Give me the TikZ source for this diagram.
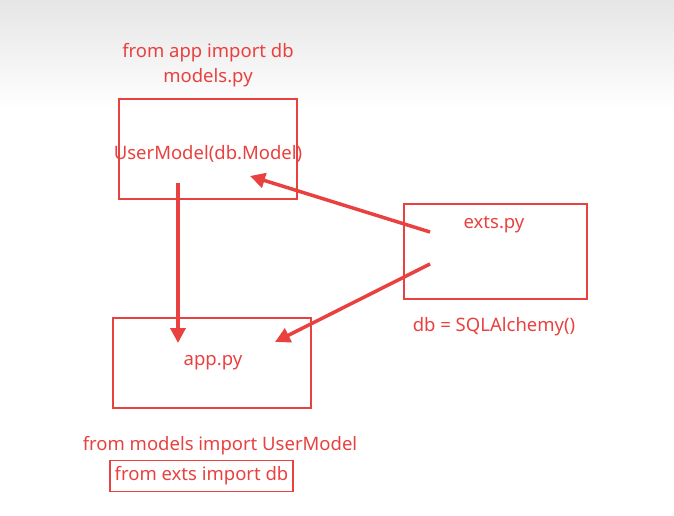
\documentclass[tikz,border=0pt]{standalone}
\usepackage{fontspec}
\setmainfont{Noto Sans}
\usetikzlibrary{arrows.meta}
\definecolor{rd}{HTML}{E8413F}
\begin{document}
\begin{tikzpicture}[x=1pt,y=-1pt,
 box/.style={draw=rd,line width=1.5pt},
 txt/.style={text=rd,font=\fontsize{18.5}{20}\selectfont,inner sep=1pt},
 arr/.style={draw=rd,line width=3.5pt,-{Triangle[length=15pt,width=15pt]}}]
\useasboundingbox (0,0) rectangle (674,516);
\shade[top color=black!10,bottom color=white] (0,0) rectangle (674,110);
\node[box,minimum width=178pt,minimum height=100pt] (m) at (208,149) {};
\node[box,minimum width=183pt,minimum height=95pt] (e) at (495.5,251.5) {};
\node[box,minimum width=198pt,minimum height=90pt] (a) at (212,363) {};
\node[txt] (t1) at (208,53) {from app import db};
\node[txt] (t2) at (208,78) {models.py};
\node[txt] (t3) at (208,154) {UserModel(db.Model)};
\node[txt] (t4) at (494,225) {exts.py};
\node[txt] (t5) at (494,327) {db = SQLAlchemy()};
\node[txt] (t6) at (213,363) {app.py};
\node[txt] (t7) at (220,446) {from models import UserModel};
\node[txt,draw=rd,line width=1.5pt,minimum width=183pt,minimum height=31pt] (t8) at (201.5,476) {from exts import db};
\coordinate (s1) at (178,183); \coordinate (d1) at (178,343);
\coordinate (s2) at (430,232); \coordinate (d2) at (250,176);
\coordinate (s3) at (430,264); \coordinate (d3) at (275,342);
\draw[arr] (s1) -- (d1);
\draw[arr] (s2) -- (d2);
\draw[arr] (s3) -- (d3);
\end{tikzpicture}
\end{document}
